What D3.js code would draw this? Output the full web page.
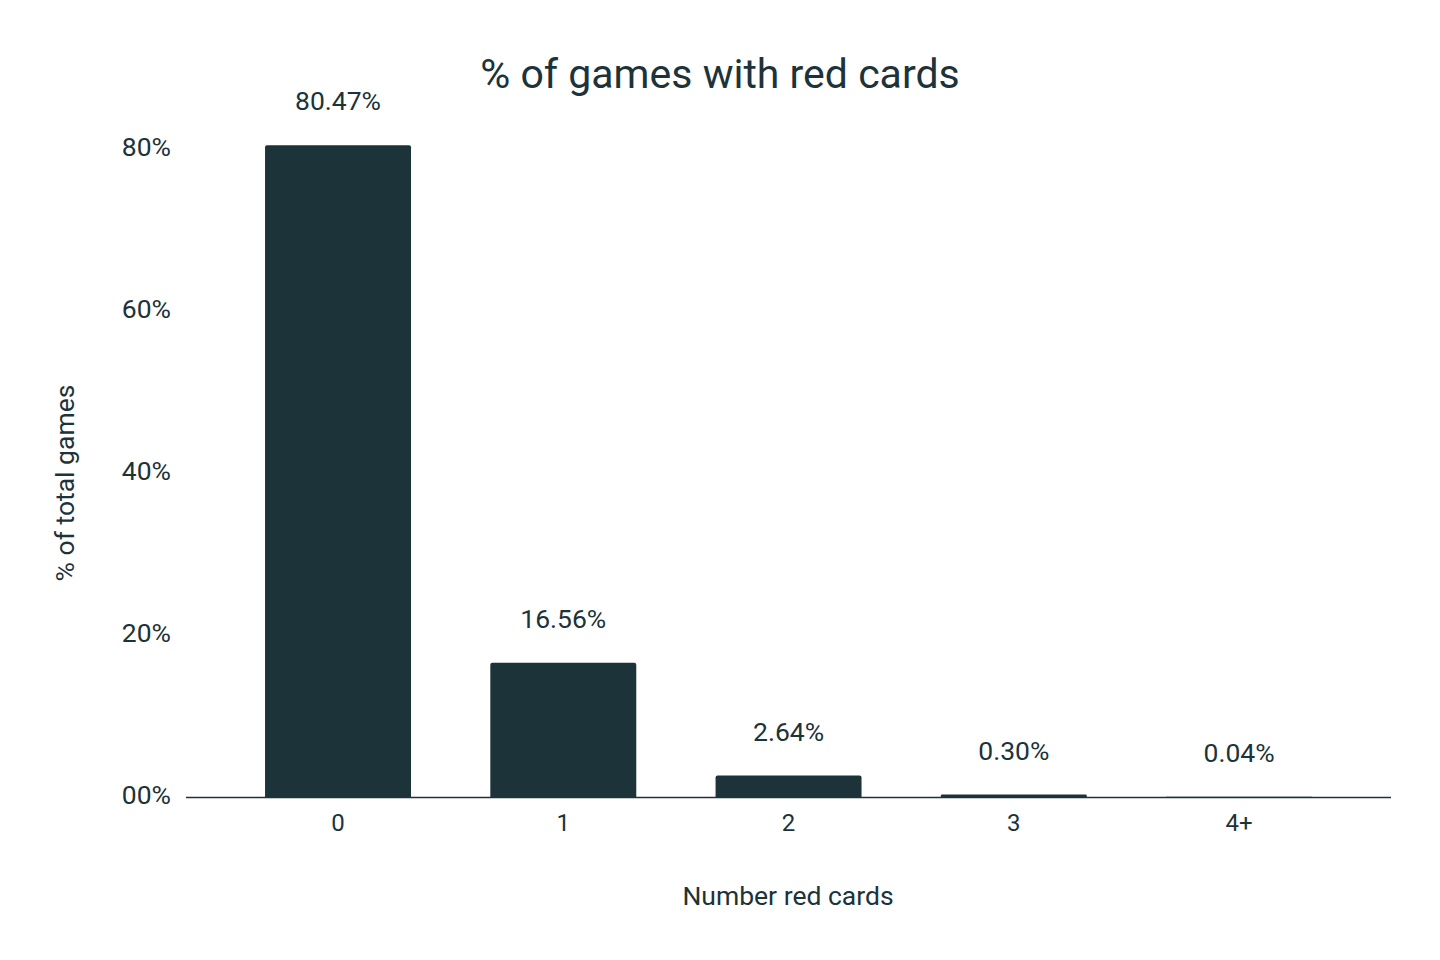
<!DOCTYPE html>
<html>
<head>
<meta charset="utf-8">
<script src="https://cdn.jsdelivr.net/npm/d3@7"></script>
<style>
  body { margin: 0; background: #fff; }
  text { font-family: Roboto, "Noto Sans", sans-serif; fill: #1c3339; }
</style>
</head>
<body>
<svg id="bar-chart" width="1440" height="960"></svg>
<script>
let categories = ["0", "1", "2", "3", "4+"]
let values = [80.47, 16.56, 2.64, 0.30, 0.04]
let yTicks = [0, 20, 40, 60, 80]
let yTickLabels = ["00%", "20%", "40%", "60%", "80%"]

let ink = "#1c3339"
let svg = d3.select("#bar-chart")

let x = d3.scaleBand()
    .domain(categories)
    .range([225.4, 1351.7])
    .paddingInner(0.352)
    .paddingOuter(0.176)

let y = d3.scaleLinear()
    .domain([0, 80])
    .range([797, 149])

// title
svg.append("text")
    .attr("x", 720)
    .attr("y", 88)
    .attr("text-anchor", "middle")
    .style("font-size", "41px")
    .text("% of games with red cards")

// y axis labels, no line
let yAxis = d3.axisLeft(y)
    .tickValues(yTicks)
    .tickSize(0)
    .tickPadding(0)
    .tickFormat((d, i) => yTickLabels[i])

svg.append("g")
    .attr("class", "y axis")
    .attr("transform", "translate(171, -3)")
    .call(yAxis)
    .call(g => g.select(".domain").remove())
    .selectAll("text")
    .style("font-size", "26.5px")
    .style("fill", ink)
    .attr("dy", "0.35em")

// bars with slightly rounded tops
let r = 2
svg.append("g")
    .selectAll("path")
    .data(values)
    .join("path")
    .attr("fill", ink)
    .attr("d", (d, i) => {
        let x0 = x(categories[i]), w = x.bandwidth()
        let y0 = y(d), y1 = y(0)
        let rr = Math.min(r, (y1 - y0) / 2)
        return `M${x0},${y1}V${y0 + rr}Q${x0},${y0} ${x0 + rr},${y0}H${x0 + w - rr}Q${x0 + w},${y0} ${x0 + w},${y0 + rr}V${y1}Z`
    })

// value labels
svg.append("g")
    .selectAll("text")
    .data(values)
    .join("text")
    .attr("x", (d, i) => x(categories[i]) + x.bandwidth() / 2)
    .attr("y", d => y(d) - 35)
    .attr("text-anchor", "middle")
    .style("font-size", "26.5px")
    .text(d => d.toFixed(2) + "%")

// x axis
let xAxis = d3.axisBottom(x)
    .tickSize(0)
    .tickPadding(17)

svg.append("g")
    .attr("class", "x axis")
    .attr("transform", `translate(0, ${y(0)})`)
    .call(xAxis)
    .call(g => g.select(".domain").remove())
    .selectAll("text")
    .style("font-size", "24px")
    .style("fill", ink)

svg.append("line")
    .attr("x1", 186)
    .attr("x2", 1391)
    .attr("y1", y(0) + 0.5)
    .attr("y2", y(0) + 0.5)
    .style("stroke", ink)
    .style("stroke-width", "1.5px")

// axis titles
svg.append("text")
    .attr("x", 788)
    .attr("y", 905)
    .attr("text-anchor", "middle")
    .style("font-size", "26.5px")
    .text("Number red cards")

svg.append("text")
    .attr("transform", "translate(74, 483) rotate(-90)")
    .attr("text-anchor", "middle")
    .style("font-size", "26.5px")
    .text("% of total games")
</script>
</body>
</html>
